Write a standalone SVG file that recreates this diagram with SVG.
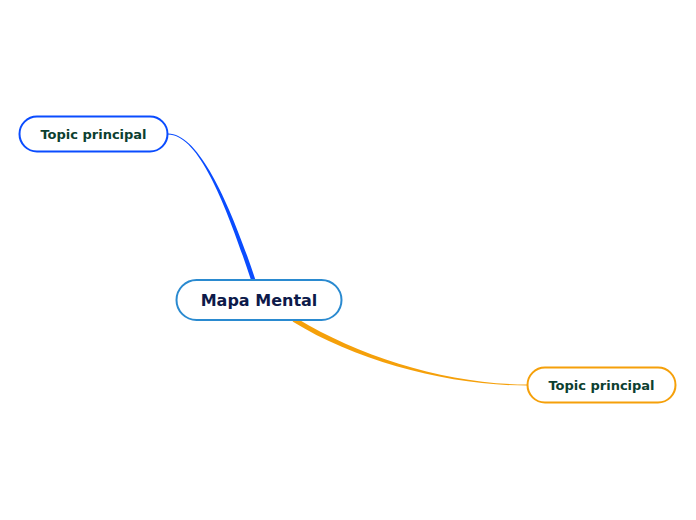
<svg xmlns="http://www.w3.org/2000/svg" width="696" height="520" viewBox="0 0 696 520">
<style>
.node rect{fill:#ffffff;stroke-width:2}
.main text{font-family:"DejaVu Sans",Verdana,sans-serif;font-weight:bold;font-size:16px;fill:#0d1a4a;text-anchor:middle}
.topic text{font-family:"DejaVu Sans",Verdana,sans-serif;font-weight:bold;font-size:13px;fill:#0c4030;text-anchor:middle}
</style>
<rect width="696" height="520" fill="#ffffff"/>
<g id="connectors">
<path d="M168,133.5 C200,133.5 232,209 255.5,280 L251,280 C228,211 200,134.5 168,134.5 Z" fill="#0a4cff"/>
<path d="M292.5,321.5 C358,362 450,385.5 527,385.5 L527,384.5 C450,384.5 362,358 297,318.5 Z" fill="#f5a00a"/>
</g>
<g id="node-main" class="node main">
<rect x="176.5" y="280" width="165" height="40" rx="20" ry="20" stroke="#2a8ad0"/>
<text x="259" y="306">Mapa Mental</text>
</g>
<g id="node-topic1" class="node topic">
<rect x="19.5" y="116.5" width="148" height="35" rx="17.5" ry="17.5" stroke="#0a4cff"/>
<text x="93.5" y="139">Topic principal</text>
</g>
<g id="node-topic2" class="node topic">
<rect x="527.5" y="367.5" width="148" height="35" rx="17.5" ry="17.5" stroke="#f5a00a"/>
<text x="601.5" y="390">Topic principal</text>
</g>
</svg>
